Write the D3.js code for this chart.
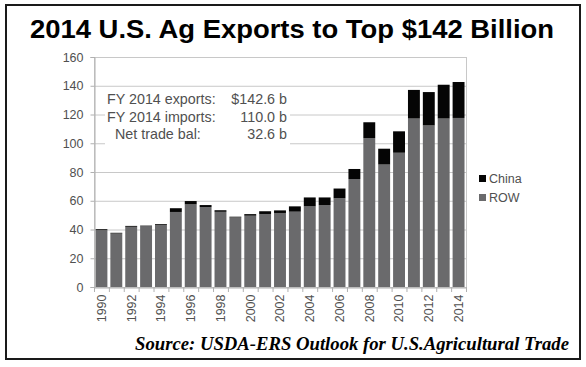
<!DOCTYPE html>
<html><head><meta charset="utf-8">
<script src="https://cdn.jsdelivr.net/npm/d3@7"></script>
<style>body{margin:0;background:#fff}svg{display:block}</style>
</head><body>
<script>
const years = [1990,1991,1992,1993,1994,1995,1996,1997,1998,1999,2000,2001,2002,2003,2004,2005,2006,2007,2008,2009,2010,2011,2012,2013,2014];
const row   = [39.5,37.2,41.9,42.2,43.1,52.2,57.5,55.6,52.3,48.4,49.6,50.8,51.5,52.4,56.1,57.0,61.8,75.1,103.6,85.2,93.4,117.2,112.4,117.2,117.6];
const china = [0.7,0.5,0.6,0.5,0.6,2.6,2.3,1.4,1.1,0.5,1.1,1.9,1.8,3.7,6.2,5.3,6.7,7.0,11.0,11.0,14.9,19.9,23.2,23.5,25.0];
const yTicks = [0,20,40,60,80,100,120,140,160];
const seriesNames = ["ROW","China"];
const legendItems = ["China","ROW"];
const colors = {ROW:"#6a6a6c", China:"#050505"};
const annoLabels = ["FY 2014 exports:","FY 2014 imports:","Net trade bal:"];
const annoValues = ["$142.6 b","110.0 b","32.6 b"];
const title = "2014 U.S. Ag Exports to Top $142 Billion";
const source = "Source: USDA-ERS Outlook for U.S.Agricultural Trade";

const W=586,H=367;
const svg=d3.select("body").append("svg").attr("width",W).attr("height",H);
// outer frame
svg.append("rect").attr("x",6).attr("y",5).attr("width",574).attr("height",354)
  .attr("fill","#fff").attr("stroke","#1a1a1a").attr("stroke-width",2);

const m={l:94,r:466,t:57,b:287};
const x=d3.scaleBand().domain(years).range([m.l,m.r]).paddingInner(0.2).paddingOuter(0.1);
const y=d3.scaleLinear().domain([0,160]).range([m.b,m.t]);

// gridlines
svg.append("g").selectAll("line").data(yTicks).join("line")
  .attr("x1",m.l).attr("x2",m.r).attr("y1",d=>y(d)+0.5).attr("y2",d=>y(d)+0.5)
  .attr("stroke","#c8c8c8").attr("stroke-width",1);
// plot border
svg.append("rect").attr("x",m.l+0.5).attr("y",m.t+0.5).attr("width",m.r-m.l).attr("height",m.b-m.t)
  .attr("fill","none").attr("stroke","#c8c8c8");

// annotation white box
svg.append("rect").attr("x",105).attr("y",89).attr("width",185).attr("height",58).attr("fill","#fff");
const ag=svg.append("g").attr("font-family","Liberation Sans, Arial, sans-serif").attr("font-size",14.3).attr("fill","#505050");
annoLabels.forEach((t,i)=>{
  ag.append("text").attr("x",i<2?107:115).attr("y",104+i*17.5).text(t);
  ag.append("text").attr("x",287).attr("y",104+i*17.5).attr("text-anchor","end").text(annoValues[i]);
});

// stacked bars
const data=years.map((yr,i)=>({year:yr,ROW:row[i],China:china[i]}));
const stack=d3.stack().keys(seriesNames)(data);
svg.append("g").selectAll("g").data(stack).join("g").attr("fill",d=>colors[d.key])
  .selectAll("rect").data(d=>d).join("rect")
  .attr("x",d=>x(d.data.year)).attr("width",x.bandwidth())
  .attr("y",d=>y(d[1])).attr("height",d=>y(d[0])-y(d[1]));

// y axis
const ya=svg.append("g").attr("transform",`translate(${m.l+0.5},0)`)
  .call(d3.axisLeft(y).tickValues(yTicks).tickSize(4).tickPadding(7));
ya.select(".domain").attr("stroke","#b0b0b0");
ya.selectAll(".tick line").attr("stroke","#b0b0b0");
ya.selectAll("text").attr("font-family","Liberation Sans, Arial, sans-serif").attr("font-size",12.5).attr("fill","#505050");

// x axis
const xa=svg.append("g").attr("transform",`translate(0,${m.b+0.5})`)
  .call(d3.axisBottom(x).tickValues(years.filter(d=>d%2===0)).tickSize(0).tickPadding(0));
xa.select(".domain").attr("stroke","#b0b0b0");
xa.selectAll("text").attr("font-family","Liberation Sans, Arial, sans-serif").attr("font-size",12.5).attr("fill","#505050")
  .attr("transform","rotate(-90)").attr("text-anchor","end").attr("dy","0.35em").attr("x",-7).attr("y",0);
// category separator ticks
svg.append("g").selectAll("line").data(d3.range(years.length+1)).join("line")
  .attr("x1",i=>m.l+0.5+i*(m.r-m.l)/years.length).attr("x2",i=>m.l+0.5+i*(m.r-m.l)/years.length)
  .attr("y1",m.b).attr("y2",m.b+5).attr("stroke","#b0b0b0");

// legend
const lg=svg.append("g").attr("font-family","Liberation Sans, Arial, sans-serif").attr("font-size",12.5).attr("fill","#505050");
legendItems.forEach((k,i)=>{
  lg.append("rect").attr("x",479).attr("y",175+i*19).attr("width",7).attr("height",7).attr("fill",colors[k]);
  lg.append("text").attr("x",489).attr("y",183+i*19).text(k);
});

// title
svg.append("text").attr("x",292).attr("y",38).attr("text-anchor","middle")
  .attr("font-family","Liberation Sans, Arial, sans-serif").attr("font-weight","bold").attr("font-size",25)
  .attr("textLength",524).attr("lengthAdjust","spacingAndGlyphs").attr("fill","#000").text(title);

// source
svg.append("text").attr("x",135).attr("y",350)
  .attr("font-family","Liberation Serif, Times New Roman, serif").attr("font-weight","bold").attr("font-style","italic")
  .attr("font-size",18.5).attr("textLength",434).attr("lengthAdjust","spacingAndGlyphs")
  .attr("fill","#000").text(source);
</script>
</body></html>
